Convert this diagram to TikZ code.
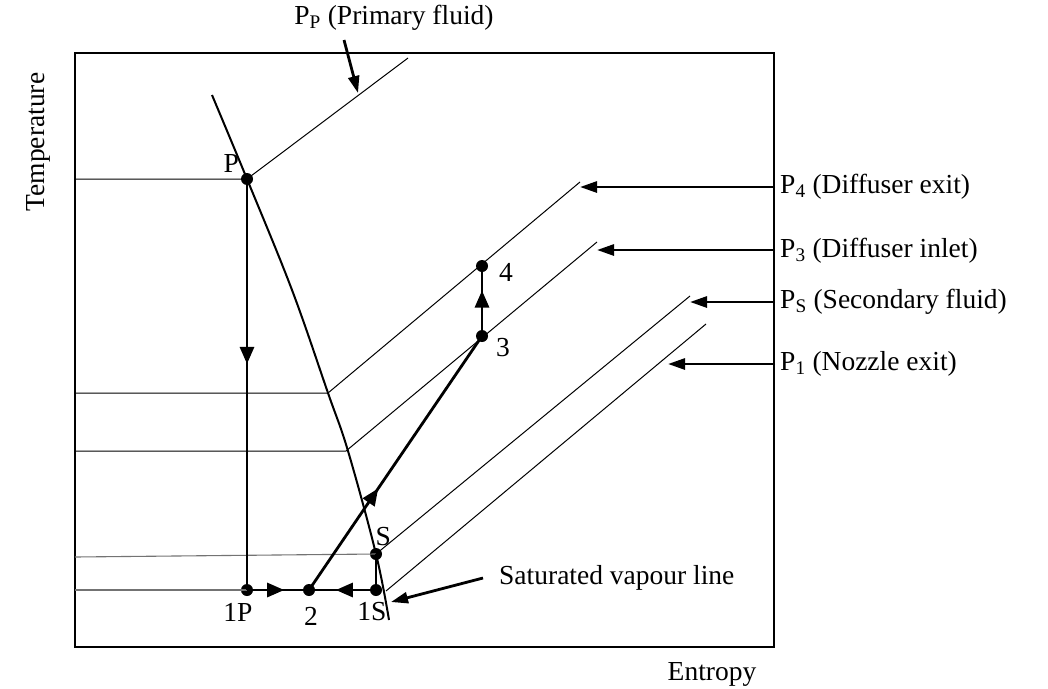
\documentclass[tikz,border=0pt]{standalone}
\usepackage{fontspec}
\setmainfont{Liberation Serif}
\usetikzlibrary{arrows.meta,decorations.markings}
\begin{document}
\begin{tikzpicture}[x=1pt,y=-1pt,
  thin line/.style={line width=1pt},
  hline/.style={line width=1.1pt,black!55},
  proc/.style={line width=2.8pt},
  dot/.style={circle,fill,inner sep=0pt,minimum size=12pt},
  lbl/.style={font=\fontsize{27.5}{30}\selectfont,inner sep=0pt},
  pointer/.style={line width=2.8pt,-{Triangle[length=17pt,width=11pt]}},
  mid/.style={postaction={decorate},decoration={markings,mark=at position #1 with {\arrow{Triangle[length=17pt,width=14pt]}}}}]
\useasboundingbox (0,0) rectangle (1048,688);
\draw[line width=2.2pt] (75,53) rectangle (774,647);
% saturated vapour line
\draw[line width=2pt] plot[smooth,tension=0.6] coordinates {(212,95) (247,179) (292,290) (328,393) (348,451) (376,554) (389,620)};
% points
\node[dot] (P) at (247,179) {};
\node[dot] (a1P) at (247,590) {};
\node[dot] (a2) at (309,590) {};
\node[dot] (a1S) at (376,590) {};
\node[dot] (S) at (376,554) {};
\node[dot] (a3) at (482,336) {};
\node[dot] (a4) at (482,266) {};
\coordinate (c4) at (328,393);
\coordinate (c3) at (346,451);
\coordinate (c1) at (386,591);
% isobars
\draw[thin line] (75,179) -- (P.center) -- (408,58);
\draw[thin line] (75,393) -- (c4) -- (580,182);
\draw[thin line] (75,451) -- (c3) -- (597,242);
\draw[hline] (75,557) -- (S.center);
\draw[thin line] (S.center) -- (690,296);
\draw[hline] (75,590) -- (a1S.center);
\draw[thin line] (c1) -- (706,324);
% process
\draw[proc,mid=0.45] (P.center) -- (a1P.center);
\draw[proc,mid=0.6] (a1P.center) -- (a2.center);
\draw[proc,mid=0.6] (a1S.center) -- (a2.center);
\draw[proc] (a1S.center) -- (S.center);
\draw[proc,mid=0.4] (a2.center) -- (a3.center);
\draw[proc,mid=0.65] (a3.center) -- (a4.center);
% labels
\node[lbl,anchor=south east] at (239,173) {P};
\node[lbl,anchor=south east] at (391,546) {S};
\node[lbl,anchor=west] at (499,272) {4};
\node[lbl,anchor=west] at (496,348) {3};
\node[lbl] at (238,612) {1P};
\node[lbl] at (311,616) {2};
\node[lbl] at (372,612) {1S};
\node[lbl,anchor=west] (l4) at (780,187) {P\textsubscript{4} (Diffuser exit)};
\node[lbl,anchor=west] (l3) at (780,251) {P\textsubscript{3} (Diffuser inlet)};
\node[lbl,anchor=west] (lS) at (780,302) {P\textsubscript{S} (Secondary fluid)};
\node[lbl,anchor=west] (l1) at (780,364) {P\textsubscript{1} (Nozzle exit)};
\node[lbl,anchor=west] (lsat) at (499,578) {Saturated vapour line};
\node[lbl] (lP) at (394,18) {P\textsubscript{P} (Primary fluid)};
\node[lbl,rotate=90] at (38,142) {Temperature};
\node[lbl] at (712,674) {Entropy};
\coordinate (t4) at (580,187);
\coordinate (t3) at (597,250);
\coordinate (tS) at (690,302);
\coordinate (t1) at (668,364);
\draw[pointer] (775,187) -- (t4);
\draw[pointer] (775,250) -- (t3);
\draw[pointer] (775,302) -- (tS);
\draw[pointer] (775,364) -- (t1);
\coordinate (ts) at (391,602);
\draw[pointer] (483,578) -- (ts);
\coordinate (tp) at (358,93);
\draw[pointer] (344,40) -- (tp);
\end{tikzpicture}
\end{document}
